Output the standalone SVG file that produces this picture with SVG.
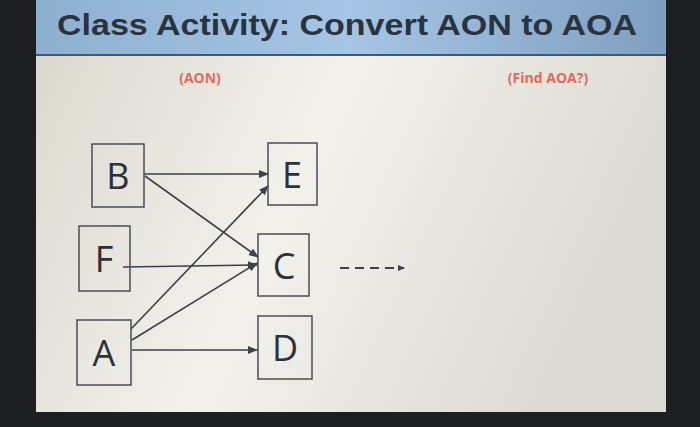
<svg xmlns="http://www.w3.org/2000/svg" width="700" height="427" viewBox="0 0 700 427">
<defs>
<linearGradient id="bg" x1="0" y1="0" x2="1" y2="0.3">
<stop offset="0" stop-color="#d9d6cc"/><stop offset="0.5" stop-color="#f2f1ec"/><stop offset="1" stop-color="#dcdad2"/>
</linearGradient>
<linearGradient id="tb" x1="0" y1="0" x2="1" y2="0">
<stop offset="0" stop-color="#8eb0d0"/><stop offset="0.5" stop-color="#a6c5e4"/><stop offset="1" stop-color="#7f9fc0"/>
</linearGradient>
<marker id="ah" markerWidth="10" markerHeight="8" refX="9" refY="4" orient="auto" markerUnits="userSpaceOnUse">
<path d="M0,0 L10,4 L0,8 z" fill="#3c4048"/>
</marker>
<marker id="ah2" markerWidth="7" markerHeight="6" refX="6" refY="3" orient="auto" markerUnits="userSpaceOnUse">
<path d="M0,0 L7,3 L0,6 z" fill="#3c4048"/>
</marker>
</defs>
<style>
.box{fill:none;stroke:#4a4d52;stroke-width:1.5}
.lbl{font-family:"Open Sans","Liberation Sans",sans-serif;font-size:36px;fill:#2e3138;text-anchor:middle}
.ed{stroke:#3c4048;stroke-width:1.6;fill:none;marker-end:url(#ah)}
.sub{font-family:"Open Sans","Liberation Sans",sans-serif;font-size:14px;font-weight:bold;fill:#e8675a;text-anchor:middle}
</style>
<rect width="700" height="427" fill="#1e1f22"/>
<rect x="36" y="0" width="630" height="412" fill="url(#bg)"/>
<rect x="36" y="0" width="630" height="54" fill="url(#tb)"/>
<rect x="36" y="54" width="630" height="2" fill="#3d5a78"/>
<text x="347" y="35" font-family="Liberation Sans,Arial,sans-serif" font-size="30" font-weight="bold" fill="#2a3340" text-anchor="middle" textLength="580" lengthAdjust="spacingAndGlyphs">Class Activity: Convert AON to AOA</text>
<text class="sub" x="200" y="83">(AON)</text>
<text class="sub" x="548" y="83">(Find AOA?)</text>
<g id="connectors">
<line class="ed" x1="144" y1="174" x2="268" y2="174"/>
<line class="ed" x1="145" y1="176" x2="258" y2="257"/>
<line class="ed" x1="123" y1="267" x2="257" y2="265"/>
<line class="ed" x1="131" y1="329" x2="268" y2="186"/>
<line class="ed" x1="132" y1="340" x2="257" y2="263"/>
<line class="ed" x1="132" y1="350" x2="257" y2="350"/>
<line x1="340" y1="268" x2="404" y2="268" stroke="#3c4048" stroke-width="2" stroke-dasharray="9,6" marker-end="url(#ah2)"/>
</g>
<g id="B"><rect class="box" x="92" y="144" width="52" height="63"/><text class="lbl" x="118" y="189">B</text></g>
<g id="E"><rect class="box" x="268" y="143" width="49" height="62"/><text class="lbl" x="292" y="188">E</text></g>
<g id="F"><rect class="box" x="79" y="226" width="51" height="65"/><text class="lbl" x="104" y="272">F</text></g>
<g id="C"><rect class="box" x="258" y="234" width="51" height="62"/><text class="lbl" x="284" y="279">C</text></g>
<g id="A"><rect class="box" x="77" y="320" width="54" height="65"/><text class="lbl" x="104" y="366">A</text></g>
<g id="D"><rect class="box" x="258" y="316" width="54" height="63"/><text class="lbl" x="285" y="361">D</text></g>
</svg>
